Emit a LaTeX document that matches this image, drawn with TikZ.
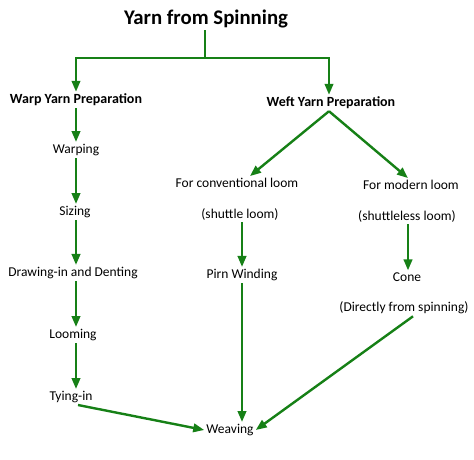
\documentclass[tikz,border=0pt]{standalone}
\usepackage{fontspec}
\setmainfont{Carlito}
\usetikzlibrary{arrows.meta}
\definecolor{flowgreen}{RGB}{22,128,22}
\begin{document}
\begin{tikzpicture}[x=1pt,y=-1pt,
  every node/.style={inner sep=2pt, font=\fontsize{13.5}{16}\selectfont},
  ttl/.style={font=\fontsize{20.8}{24}\selectfont\bfseries},
  hdr/.style={font=\fontsize{14}{17}\selectfont\bfseries},
  arr/.style={draw=flowgreen, line width=2.4pt, -{Triangle[length=11pt,width=8.5pt]}, fill=none},
  ]
\useasboundingbox (0,0) rectangle (474,459);
\node[ttl] (title) at (206,19) {Yarn from Spinning};
\node[hdr] (warp) at (76,100) {Warp Yarn Preparation};
\node[hdr] (weft) at (331,103) {Weft Yarn Preparation};
\node (warping) at (76,150) {Warping};
\node (sizing) at (75,212) {Sizing};
\node (drawing) at (73,273) {Drawing-in and Denting};
\node (looming) at (73,335) {Looming};
\node (tying) at (71,397) {Tying-in};
\node (weaving) at (230,430) {Weaving};
\node (conv) at (237,183) {For conventional loom};
\node (shuttle) at (240,214) {(shuttle loom)};
\node (pirn) at (242,275) {Pirn Winding};
\node (modern) at (411,185) {For modern loom};
\node (shless) at (407,216) {(shuttleless loom)};
\node (cone) at (407,277) {Cone};
\node (direct) at (404,308) {(Directly from spinning)};
\coordinate (split) at (205,58);
\draw[draw=flowgreen, line width=2.4pt] (title.south -| split) -- (split);
\draw[arr] (split) -| (warp.north);
\draw[arr] (split) -| ([xshift=-2pt]weft.north);
\draw[arr] (warp.south) -- (warping.north);
\draw[arr] (warping.south) -- (sizing.north -| warping.south);
\draw[arr] (sizing.south -| warping.south) -- (drawing.north -| warping.south);
\draw[arr] (drawing.south -| warping.south) -- (looming.north -| warping.south);
\draw[arr] (looming.south -| warping.south) -- (tying.north -| warping.south);
\draw[arr] ([xshift=7pt]tying.south) -- (weaving.west);
\draw[arr] ([xshift=-2pt]weft.south) -- ([xshift=13pt]conv.north);
\draw[arr] ([xshift=-2pt]weft.south) -- ([xshift=-3pt]modern.north);
\draw[arr] ([xshift=2pt]shuttle.south) -- (pirn.north);
\draw[arr] (pirn.south) -- (pirn.south |- weaving.north);
\draw[arr] ([xshift=1pt]shless.south) -- ([xshift=1pt]cone.north);
\draw[arr] ([xshift=9pt]direct.south) -- (weaving.east);
\end{tikzpicture}
\end{document}
